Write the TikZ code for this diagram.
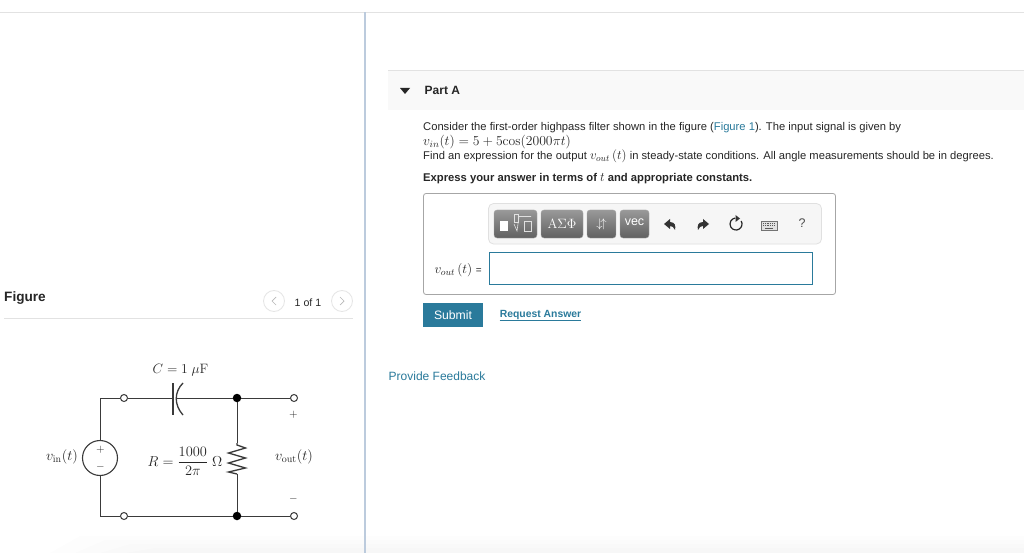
\documentclass[tikz,border=0pt]{standalone}
\usepackage{fix-cm}
\usepackage{amsmath}
\usepackage[no-math]{fontspec}
\setmainfont{Liberation Sans}
\usepackage{tikz}
\usetikzlibrary{arrows.meta, positioning, decorations.pathmorphing, shapes.geometric}
\definecolor{linkblue}{HTML}{2A7A9B}
\definecolor{rulegray}{HTML}{E2E2E2}
\definecolor{wiregray}{HTML}{3A3A3A}
\definecolor{splitblue}{HTML}{BCCBDD}
\tikzset{
	txt/.style={inner sep=0pt, anchor=base west, font=\fontsize{11.2}{13}\selectfont, text=black!85},
	btn/.style={rounded corners=3pt, top color=black!40, bottom color=black!62, draw=black!35, line width=0.4pt},
	btntxt/.style={inner sep=0pt, text=white},
	btnline/.style={draw=black!12, line width=0.6pt},
	wire/.style={line width=1pt, draw=wiregray},
	term/.style={circle, draw=wiregray, fill=white, line width=1pt, minimum size=7pt, inner sep=0pt},
	dotnode/.style={circle, fill=black, minimum size=8.5pt, inner sep=0pt},
	nav/.style={circle, draw=black!10, fill=white, line width=0.8pt, minimum size=21pt, inner sep=0pt},
	icon/.style={fill=black!80, draw=none},
	cirlbl/.style={inner sep=0pt, font=\fontsize{14.4}{16}\selectfont, text=black!85},
	mathsym/.style={inner sep=0pt, font=\fontsize{11}{13}\selectfont, text=black!85},
}
\begin{document}
\begin{tikzpicture}[x=1pt, y=-1pt]
	\useasboundingbox (0,0) rectangle (1024,553);
	\fill[white] (0,0) rectangle (1024,553);
	% page frame
	\foreach \k in {0,1,2,3}
		\fill[black, opacity=0.008] ({50+25*\k},553) -- ({80+25*\k},{536+4*\k}) -- (1024,{536+4*\k}) -- (1024,553) -- cycle;
	\draw[rulegray, line width=0.8pt] (0,12.5) -- (1024,12.5);
	\draw[splitblue, line width=1.2pt] (365,12.5) -- (365,553);

	% left: figure header
	\node[txt, font=\fontsize{13.6}{15}\bfseries\selectfont] (figtitle) at (4,301.5) {Figure};
	\draw[rulegray, line width=0.8pt] (4,318) -- (353,318);
	\node[nav] (navprev) at (274,301) {};
	\node[nav] (navnext) at (342,301) {};
	\node[txt, anchor=base, font=\fontsize{10.6}{12}\selectfont] (navcount) at (308,306) {1 of 1};
	\draw[black!28, line width=0.7pt] (276,297) -- (272,301) -- (276,305);
	\draw[black!28, line width=0.7pt] (340,297) -- (344,301) -- (340,305);

	% left: circuit
	\begin{scope}
		\coordinate (corntl) at (100,398);
		\coordinate (corntr) at (100,516);
		\node[circle, draw=wiregray, line width=1.1pt, fill=white, minimum size=35pt, inner sep=0pt] (vsrc) at (100,458) {};
		\node[term] (tin1) at (124,398) {};
		\node[term] (tin2) at (124,516) {};
		\node[term] (tout1) at (294,398) {};
		\node[term] (tout2) at (294,516) {};
		\node[dotnode] (jtop) at (237,398) {};
		\node[dotnode] (jbot) at (237,516) {};
		\coordinate (capl) at (173,398);
		\coordinate (capr) at (177,398);
		\coordinate (resa) at (237,443);
		\coordinate (resb) at (237,474);
		\draw[wire] (vsrc) -- (corntl) -- (tin1);
		\draw[wire] (vsrc) -- (corntr) -- (tin2);
		\draw[wire] (tin1) -- (capl);
		\draw[wire] (capr) -- (jtop);
		\draw[wire] (jtop) -- (tout1);
		\draw[wire] (tin2) -- (jbot);
		\draw[wire] (jbot) -- (tout2);
		\draw[wire] (jtop) -- (resa);
		\draw[wire] (resb) -- (jbot);
		\draw[wire, line width=1.3pt] (173,383) -- (173,415);
		\draw[wire, line width=1.3pt] (183,383) .. controls (174,392) and (174,405) .. (183,415);
		\draw[wire, line width=1.3pt, line join=miter] (resa) -- (237,445) -- (245.5,448) -- (228.5,453) -- (245.5,458) -- (228.5,463) -- (245.5,468) -- (228.5,472) -- (237,474) -- (resb);
		\node[mathsym] (srcplus) at (100.5,450) {$+$};
		\node[mathsym] (srcminus) at (100.5,467) {$-$};
		\node[cirlbl, font=\fontsize{13.6}{15}\selectfont] (lblc) at (180.5,370) {$C = 1~\mu\mathrm{F}$};
		\node[cirlbl] (lblvin) at (62,457) {$v_{\mathrm{in}}(t)$};
		\node[cirlbl] (lblr) at (185,461.5) {$R = \dfrac{1000}{2\pi}~\Omega$};
		\node[cirlbl] (lblvout) at (294,457) {$v_{\mathrm{out}}(t)$};
		\node[mathsym] (outplus) at (293.5,415) {$+$};
		\node[mathsym] (outminus) at (293.5,499) {$-$};
	\end{scope}

	% right: part A band
	\fill[black!2.5] (388,70) rectangle (1024,110);
	\draw[rulegray, line width=0.8pt] (388,70.5) -- (1024,70.5);
	\fill[black!85] (400,88) -- (410,88) -- (405,94) -- cycle;
	\node[txt, font=\fontsize{12}{14}\bfseries\selectfont] (parta) at (424.5,95) {Part A};

	% right: question text
	\node[txt] (line1) at (423,130.5) {Consider the first-order highpass filter shown in the figure (\textcolor{linkblue}{Figure 1}). The input signal is given by};
	\node[txt, font=\fontsize{13.7}{15}\selectfont] (line2) at (423,145.5) {$v_{in}(t) = 5 + 5\!\cos(2000\pi t)$};
	\node[txt] (line3) at (423,159.5) {Find an expression for the output {\fontsize{13}{14}\selectfont$v_{out}\,(t)$} in steady-state conditions. All angle measurements should be in degrees.};
	\node[txt, font=\fontsize{11.25}{13}\bfseries\selectfont] (line4) at (423,181.5) {Express your answer in terms of {\mdseries\fontsize{13}{14}\selectfont$t$} and appropriate constants.};

	% right: answer box
	\draw[black!35, rounded corners=2.5pt, line width=0.8pt] (423.5,193.5) rectangle (835.5,294.5);
	\draw[black!12, fill=black!3.5, rounded corners=5pt, line width=0.8pt] (488.5,203.5) rectangle (821.5,244);
	\node[btn, minimum width=43pt, minimum height=28pt, inner sep=0pt] (btnroot) at (515.5,224) {};
	\node[btn, minimum width=42pt, minimum height=28pt, inner sep=0pt] (btngreek) at (562,224) {};
	\node[btn, minimum width=29pt, minimum height=28pt, inner sep=0pt] (btnarrow) at (601.5,224) {};
	\node[btn, minimum width=29pt, minimum height=28pt, inner sep=0pt] (btnvec) at (634.5,224) {};
	\fill[white] (500,221) rectangle (508,231.5);
	\draw[btnline] (514,224) -- (517,231) -- (519,216.5) -- (531,216.5);
	\draw[btnline] (524,221) rectangle (531,231);
	\draw[btnline] (514,214) rectangle (518.5,222);
	\node[btntxt, font=\fontsize{13.5}{15}\selectfont] (lblgreek) at (562,223.5) {$\mathrm{A}\Sigma\Phi$};
	\node[btntxt, font=\fontsize{12.5}{14}\selectfont] (lblarrow) at (601.5,224) {$\downarrow\!\uparrow$};
	\node[btntxt, font=\fontsize{12.5}{14}\selectfont] (lblvec) at (634.5,222.5) {vec};

	% right: toolbar icons
	\fill[icon] (664,224) -- (670,219) -- (670,222) .. controls (675,222) and (676,226) .. (675,230) .. controls (674,227) and (672,226) .. (670,226) -- (670,229) -- cycle;
	\fill[icon] (709,224) -- (703,219) -- (703,222) .. controls (698,222) and (697,226) .. (698,230) .. controls (699,227) and (701,226) .. (703,226) -- (703,229) -- cycle;
	\draw[black!85, line width=1.2pt] (736,224) ++(-30:6) arc[start angle=-30, end angle=262, radius=6];
	\fill[icon] (735.5,215) -- (735.5,222) -- (740,218.5) -- cycle;
	\draw[black!55, fill=black!12, line width=0.7pt] (761,221) rectangle (777,230);
	\draw[black!65, line width=1pt, dash pattern=on 1pt off 0.8pt] (763,223.5) -- (775,223.5);
	\draw[black!65, line width=1pt, dash pattern=on 1pt off 0.8pt] (763,226) -- (775,226);
	\draw[black!65, line width=0.8pt] (765,228.5) -- (773,228.5);
	\node[inner sep=0pt, text=black!70, font=\fontsize{12.5}{14}\selectfont] (lblhelp) at (802,223.5) {?};

	% right: answer row
	\node[txt, font=\fontsize{13.4}{15}\selectfont, anchor=base east] (lblans) at (482,273.5) {$v_{out}\,(t)$ {\fontsize{10}{12}\selectfont =}};
	\node[draw=linkblue, line width=0.8pt, fill=white, minimum width=323.5pt, minimum height=32.5pt, inner sep=0pt] (ansbox) at (651,268.5) {};
	\node[fill=linkblue, minimum width=60pt, minimum height=24pt, inner sep=0pt, text=white, font=\fontsize{12.2}{14}\selectfont] (btnsubmit) at (453,315) {Submit};
	\node[inner sep=0pt, text=linkblue, font=\fontsize{10.4}{12}\bfseries\selectfont] (lblreq) at (540.5,315) {Request Answer};
	\draw[linkblue, line width=0.6pt] (lblreq.south west) -- (lblreq.south east);
	\node[txt, font=\fontsize{12}{14}\selectfont, text=linkblue] (lblfeed) at (388.5,380) {Provide Feedback};
\end{tikzpicture}
\end{document}
